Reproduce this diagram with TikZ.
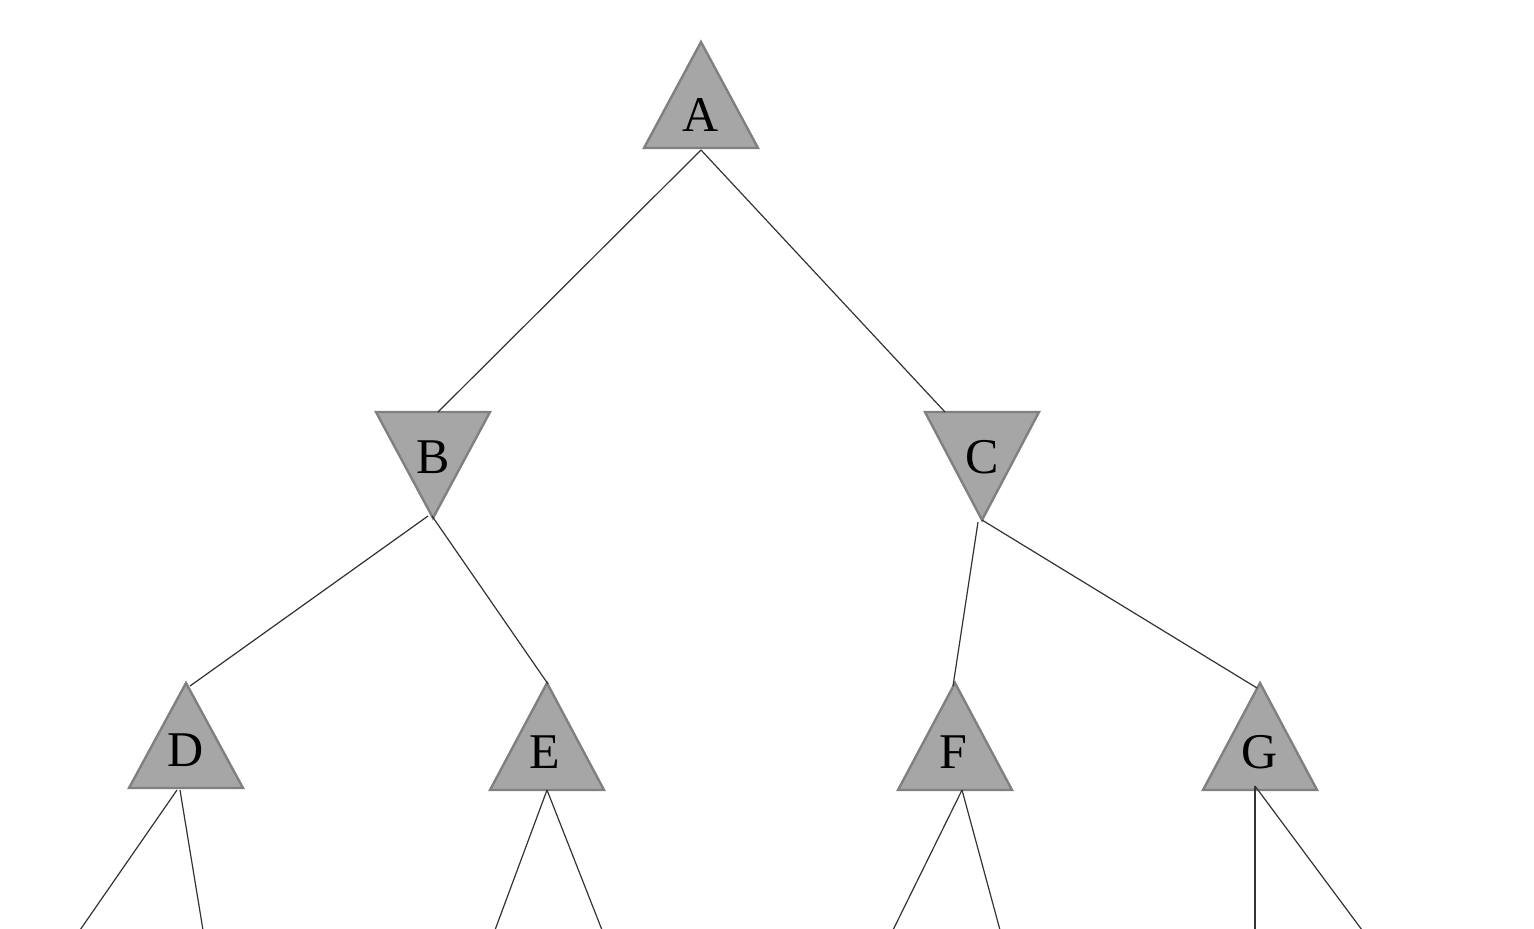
\documentclass[tikz,border=0pt]{standalone}
\usepackage{fontspec}
\setmainfont{Liberation Serif}
\begin{document}
\begin{tikzpicture}[x=0.5pt,y=-0.5pt,
  tri/.style={fill=black!35,draw=black!50,line width=1.2pt},
  lab/.style={font=\fontsize{25}{25}\selectfont,inner sep=0pt},
  edge/.style={draw=black!80,line width=0.6pt}]
\useasboundingbox (0,0) rectangle (1534,928);
\clip (0,0) rectangle (1534,928);
% up triangles: apex, base
\newcommand{\uptri}[4]{% name, apex x, apex y, base y
  \filldraw[tri] (#2,#3) -- (#2+57,#4) -- (#2-57,#4) -- cycle;
  \coordinate (#1top) at (#2,#3); \coordinate (#1bot) at (#2,#4);}
\newcommand{\dntri}[4]{% name, apex x, top y, apex y
  \filldraw[tri] (#2-57,#3) -- (#2+57,#3) -- (#2,#4) -- cycle;
  \coordinate (#1top) at (#2,#3); \coordinate (#1bot) at (#2,#4);}
\uptri{A}{701}{42}{148}
\dntri{B}{433}{412}{518}
\dntri{C}{982}{412}{520}
\uptri{D}{186}{683}{788}
\uptri{E}{547}{683}{790}
\uptri{F}{955}{683}{790}
\uptri{G}{1260}{683}{790}
\node[lab] (a) at (701,115) {A};
\node[lab] (b) at (433,457) {B};
\node[lab] (c) at (982,457) {C};
\node[lab] (d) at (186,750) {D};
\node[lab] (e) at (545,752) {E};
\node[lab] (f) at (953,752) {F};
\node[lab] (g) at (1260,752) {G};
\coordinate (d1) at (80,930); \coordinate (d2) at (203,930);
\coordinate (e1) at (495,930); \coordinate (e2) at (602,930);
\coordinate (f1) at (893,930); \coordinate (f2) at (1000,930);
\coordinate (g1) at (1255,930); \coordinate (g2) at (1362,930);
\draw[edge] (701,150) -- (438,412);
\draw[edge] (701,150) -- (945,412);
\draw[edge] (428,516) -- (190,686);
\draw[edge] (432,516) -- (548,684);
\draw[edge] (978,522) -- (953,686);
\draw[edge] (982,520) -- (1257,688);
\draw[edge] (177,790) -- (d1);
\draw[edge] (180,790) -- (d2);
\draw[edge] (547,790) -- (e1);
\draw[edge] (547,790) -- (e2);
\draw[edge] (962,790) -- (f1);
\draw[edge] (962,790) -- (f2);
\draw[edge] (1255,786) -- (g1);
\draw[edge] (1255,786) -- (g2);
\end{tikzpicture}
\end{document}
